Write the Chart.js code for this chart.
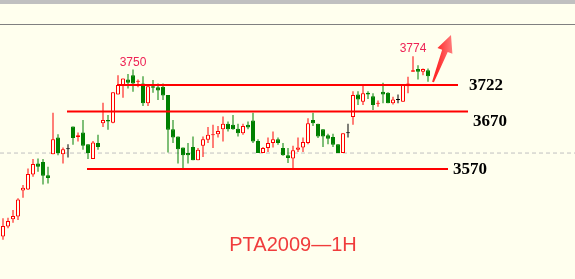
<!DOCTYPE html>
<html>
<head>
<meta charset="utf-8">
<script src="https://cdn.jsdelivr.net/npm/chart.js@4/dist/chart.umd.min.js"></script>
<style>
  html, body { margin: 0; padding: 0; background: #ffffee; }
  #wrap { width: 575px; height: 279px; }
</style>
</head>
<body>
<div id="wrap"><canvas id="c" width="575" height="279"></canvas></div>
<script>
/* PTA2009 hourly candles with hand-drawn support / resistance levels */

// OHLC per 1h bar, oldest first
const open = [3448,3466,3479,3484,3531,3533,3560,3580,3583,3559,
              3597,3627,3597,3606,3647,3628,3636,3615,3588,3617,
              3653,3659,3654,3705,3722,3732,3740,3728,3725,3689,
              3720,3718,3719,3704,3642,3629,3609,3599,3610,3586,
              3612,3623,3631,3633,3642,3652,3650,3643,3635,3650,
              3658,3621,3599,3608,3617,3624,3608,3595,3589,3605,
              3609,3617,3659,3652,3642,3631,3628,3615,3599,3635,
              3664,3705,3692,3708,3702,3688,3710,3708,3689,3695,
              3692,3720,3746,3751,3746,3749];
const high = [3481,3482,3496,3517,3541,3571,3588,3589,3588,3574,
              3672,3633,3609,3615,3647,3636,3659,3615,3621,3632,
              3690,3668,3709,3740,3734,3742,3750,3732,3738,3720,
              3731,3725,3725,3704,3659,3629,3609,3617,3629,3608,
              3629,3646,3650,3648,3665,3656,3668,3652,3652,3656,
              3672,3624,3610,3627,3638,3627,3617,3608,3612,3627,
              3627,3662,3672,3652,3642,3634,3634,3615,3635,3652,
              3711,3711,3722,3711,3707,3694,3726,3709,3701,3705,
              3722,3737,3774,3758,3752,3752];
const low  = [3442,3463,3473,3478,3518,3532,3556,3565,3542,3544,
              3597,3595,3580,3591,3614,3620,3605,3588,3588,3605,
              3646,3641,3653,3705,3699,3716,3710,3718,3684,3684,
              3708,3695,3695,3600,3617,3580,3571,3580,3586,3586,
              3592,3617,3608,3627,3620,3638,3641,3629,3632,3642,
              3617,3599,3599,3601,3609,3614,3594,3581,3570,3601,
              3601,3615,3648,3626,3610,3615,3610,3599,3599,3627,
              3650,3686,3686,3697,3677,3683,3689,3689,3687,3689,
              3692,3707,3746,3732,3740,3728];
const close = [3467,3476,3485,3515,3536,3561,3579,3574,3558,3554,
               3624,3599,3606,3606,3626,3631,3612,3599,3618,3610,
               3659,3656,3709,3722,3734,3726,3725,3729,3689,3720,
               3717,3712,3703,3641,3627,3606,3595,3595,3586,3605,
               3624,3632,3633,3639,3652,3642,3642,3635,3648,3645,
               3620,3599,3608,3617,3624,3617,3595,3590,3604,3609,
               3619,3653,3653,3629,3629,3625,3614,3599,3635,3635,
               3704,3696,3707,3705,3686,3690,3705,3689,3696,3695,
               3722,3725,3749,3746,3751,3738];

// drawn levels (line value) and the text written beside them
const levelValues = [3722, 3674, 3570];
const levelLabels = ["3722", "3670", "3570"];
const levelFrom   = [22.8, 12.8, 16.8];   // bar index where each line starts
const levelTo     = [91.0, 93.0, 89.0];   // ... and ends
const refPrice = 3599;                     // grey dashed reference line
const peakBars = [26, 82];                 // bars whose highs are labelled
const title = "PTA2009\u20141H";

const UP = "#ff0000", DOWN = "#008000", FLAT = "#000000", BG = "#ffffee";
const idx = open.map((_, i) => i);
const colorOf = (i) => close[i] > open[i] ? UP : close[i] < open[i] ? DOWN : FLAT;

const wickData = idx.map(i => ({ x: i, y: [low[i], high[i]] }));
const bodyData = idx.map(i => ({ x: i, y: [open[i], close[i]] }));

const levelSets = levelValues.map((v, j) => ({
  type: "line", order: 1,
  data: [{ x: levelFrom[j], y: v }, { x: levelTo[j], y: v }],
  borderColor: "#ff0000", borderWidth: 2, pointRadius: 0,
}));

/* ---------------- frame, labels, arrow ---------------- */
const decor = {
  id: "decor",
  beforeDraw(chart) {
    const c = chart.ctx, w = chart.width;
    c.save();
    c.fillStyle = BG; c.fillRect(0, 0, w, chart.height);
    c.fillStyle = "#c0c0c0"; c.fillRect(0, 0, w, 4);
    c.fillStyle = "#808080"; c.fillRect(0, 24, w, 1);
    c.restore();
  },
  afterDraw(chart) {
    const c = chart.ctx, xs = chart.scales.x, ys = chart.scales.y;
    c.save();
    // peak labels
    c.font = "12px 'Liberation Sans', Arial, sans-serif";
    c.fillStyle = "#ee2255"; c.textAlign = "center"; c.textBaseline = "alphabetic";
    for (const i of peakBars) c.fillText(String(high[i]), xs.getPixelForValue(i), ys.getPixelForValue(high[i]) - 4);

    // level labels
    c.font = "bold 17px 'Liberation Serif', 'Times New Roman', serif";
    c.fillStyle = "#000"; c.textAlign = "left"; c.textBaseline = "middle";
    const dx = [11, 5, 5], dy = [1, 10, 1];
    levelValues.forEach((v, j) => {
      c.fillText(levelLabels[j], xs.getPixelForValue(levelTo[j]) + dx[j], ys.getPixelForValue(v) + dy[j]);
    });

    // title
    c.font = "20px 'Liberation Sans', Arial, sans-serif";
    c.fillStyle = "#f03c3c"; c.textAlign = "center"; c.textBaseline = "alphabetic";
    c.fillText(title, 293, 251);

    // arrow off the last bar
    const tail = [433, 82], tip = [451, 35];
    const L = Math.hypot(tip[0] - tail[0], tip[1] - tail[1]);
    const ux = (tip[0] - tail[0]) / L, uy = (tip[1] - tail[1]) / L, nx = -uy, ny = ux;
    const bx = tip[0] - 17 * ux, by = tip[1] - 17 * uy;
    const g = c.createLinearGradient(437, 0, 455, 0);
    g.addColorStop(0, "#ff2a2a"); g.addColorStop(1, "#ff8a8a");
    c.fillStyle = g;
    c.beginPath();
    c.moveTo(tail[0] - 1 * nx, tail[1] - 1 * ny);
    c.lineTo(bx - 3 * nx, by - 3 * ny);
    c.lineTo(bx - 8 * nx, by - 8 * ny);
    c.lineTo(tip[0], tip[1]);
    c.lineTo(bx + 8 * nx, by + 8 * ny);
    c.lineTo(bx + 3 * nx, by + 3 * ny);
    c.lineTo(tail[0] + 1 * nx, tail[1] + 1 * ny);
    c.closePath(); c.fill();
    c.restore();
  },
};

new Chart(document.getElementById("c"), {
  type: "bar",
  data: {
    datasets: [
      ...levelSets,
      { type: "line", order: 4, data: [{ x: -0.6, y: refPrice }, { x: 114.4, y: refPrice }],
        borderColor: "#c0c0c0", borderWidth: 1, borderDash: [4, 3], pointRadius: 0 },
      { label: "wick", order: 3, data: wickData, barThickness: 1, grouped: false,
        backgroundColor: (ctx) => colorOf(ctx.dataIndex), borderWidth: 0, inflateAmount: 0 },
      { label: "body", order: 2, data: bodyData, barThickness: 4, grouped: false, minBarLength: 1,
        backgroundColor: (ctx) => { const k = colorOf(ctx.dataIndex); return k === UP ? BG : k; },
        borderColor: (ctx) => colorOf(ctx.dataIndex), borderWidth: 1, borderSkipped: false, inflateAmount: 0 },
    ],
  },
  options: {
    responsive: false, animation: false, devicePixelRatio: 1,
    layout: { padding: 0 },
    plugins: { legend: { display: false }, tooltip: { enabled: false } },
    scales: {
      x: { type: "linear", min: -0.6, max: 114.4, offset: false, display: false },
      y: { min: 3371, max: 3876, display: false },
    },
  },
  plugins: [decor],
});
</script>
</body>
</html>
